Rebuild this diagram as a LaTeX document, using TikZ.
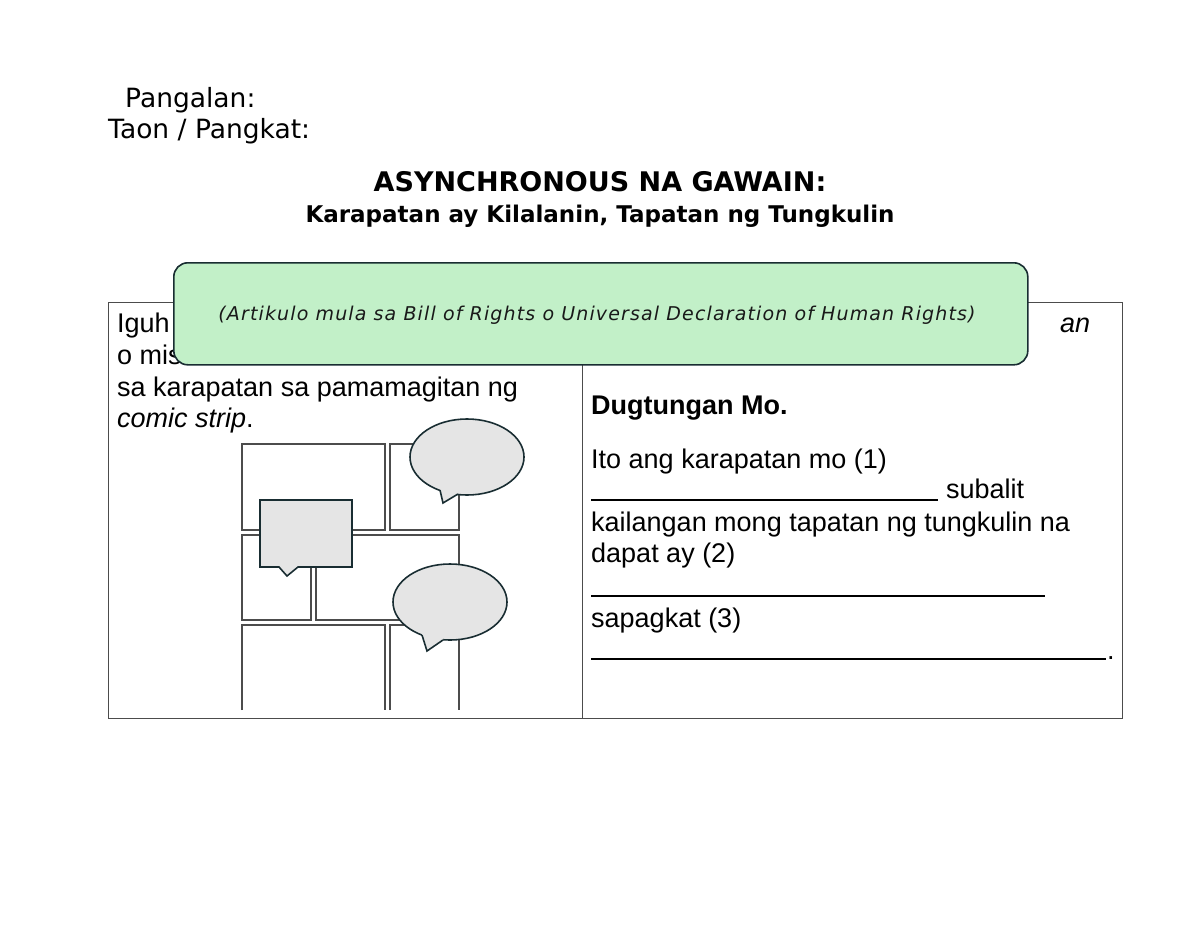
\documentclass[tikz,border=0pt]{standalone}
\usepackage{fontspec}
\setmainfont{Liberation Sans}
\newfontfamily\dejavu{DejaVu Sans}
\definecolor{mint}{RGB}{194,240,200}
\definecolor{edge}{RGB}{25,45,50}
\begin{document}
\begin{tikzpicture}[x=1pt,y=-1pt,
  txt/.style={anchor=base west,inner sep=0pt,font=\fontsize{27}{32}\selectfont},
  panel/.style={draw=black!70,line width=1.2pt},
  bubble/.style={draw=edge,line width=1.6pt,fill=black!10}]
\useasboundingbox (0,0) rectangle (1200,927);
% header
\node[txt,font=\dejavu\fontsize{26.5}{30}\selectfont] (nm) at (125,107) {Pangalan:};
\node[txt,font=\dejavu\fontsize{26.5}{30}\selectfont] (tp) at (108,138) {Taon / Pangkat:};
\node[anchor=base,inner sep=0pt,font=\dejavu\bfseries\fontsize{27}{31}\selectfont] (t1) at (600,191) {ASYNCHRONOUS NA GAWAIN:};
\node[anchor=base,inner sep=0pt,font=\dejavu\bfseries\fontsize{23}{27}\selectfont] (t2) at (600,222) {Karapatan ay Kilalanin, Tapatan ng Tungkulin};
% table
\draw[black!70,line width=1pt] (108,302) rectangle (1122,718);
\draw[black!70,line width=1pt] (582,302) -- (582,718);
% left text
\node[txt] (l1) at (117,332) {Iguh};
\node[txt] (l2) at (117,364) {o mis};
\node[txt] (l3) at (117,396) {sa karapatan sa pamamagitan ng};
\node[txt,font=\itshape\fontsize{27}{32}\selectfont] (l4) at (117,427) {comic strip\upshape.};
% comic panels
\draw[panel] (242,530) -- (242,444) -- (385,444) -- (385,530) -- cycle;
\draw[panel] (390,444) rectangle (459,530);
\draw[panel] (242,535) rectangle (311,620);
\draw[panel] (316,535) rectangle (459,620);
\draw[panel] (242,710) -- (242,625) -- (385,625) -- (385,710);
\draw[panel] (390,710) -- (390,625) -- (459,625) -- (459,710);
% callouts
\draw[bubble] (260,500) -- (352,500) -- (352,567) -- (298,567) -- (287,576) -- (279,567) -- (260,567) -- cycle;
\coordinate (e1) at (467,457);
\draw[bubble] (e1) ellipse[x radius=57,y radius=38];
\coordinate (b1a) at (440,490); \coordinate (b1t) at (443,503); \coordinate (b1b) at (458,494);
\fill[black!10] (b1a) -- (b1t) -- (b1b) -- (458,488) -- (440,484) -- cycle;
\draw[edge,line width=1.6pt,line join=miter] (b1a) -- (b1t) -- (b1b);
\coordinate (e2) at (450,602);
\draw[bubble] (e2) ellipse[x radius=57,y radius=38];
\coordinate (b2a) at (422,635); \coordinate (b2t) at (427,651); \coordinate (b2b) at (443,640);
\fill[black!10] (b2a) -- (b2t) -- (b2b) -- (443,634) -- (422,629) -- cycle;
\draw[edge,line width=1.6pt,line join=miter] (b2a) -- (b2t) -- (b2b);
% right text
\node[txt,font=\itshape\fontsize{27}{32}\selectfont] (r0) at (1060,332) {an};
\node[txt,font=\bfseries\fontsize{27}{32}\selectfont] (r1) at (591,414) {Dugtungan Mo.};
\node[txt] (r2) at (591,468) {Ito ang karapatan mo (1)};
\coordinate (u1a) at (591,500); \coordinate (u1b) at (938,500);
\draw[line width=1.2pt] (u1a) -- (u1b);
\node[txt] (r3) at (946,498) {subalit};
\node[txt] (r4) at (591,531) {kailangan mong tapatan ng tungkulin na};
\node[txt] (r5) at (591,562) {dapat ay (2)};
\coordinate (u2a) at (591,596); \coordinate (u2b) at (1045,596);
\draw[line width=1.2pt] (u2a) -- (u2b);
\node[txt] (r6) at (591,627) {sapagkat (3)};
\coordinate (u3a) at (591,659); \coordinate (u3b) at (1106,659);
\draw[line width=1.2pt] (u3a) -- (u3b);
\node[txt] (r7) at (1107,659) {.};
% green box
\node[draw=edge,line width=1.6pt,fill=mint,rounded corners=14pt,minimum width=854pt,minimum height=102pt,anchor=north west] (gb) at (173,262) {};
\node[anchor=base,inner sep=0pt,font=\dejavu\itshape\fontsize{19}{23}\selectfont,text=black!90] (gt) at (597,320) {\addfontfeature{LetterSpace=6}(Artikulo mula sa Bill of Rights o Universal Declaration of Human Rights)};
\end{tikzpicture}
\end{document}
